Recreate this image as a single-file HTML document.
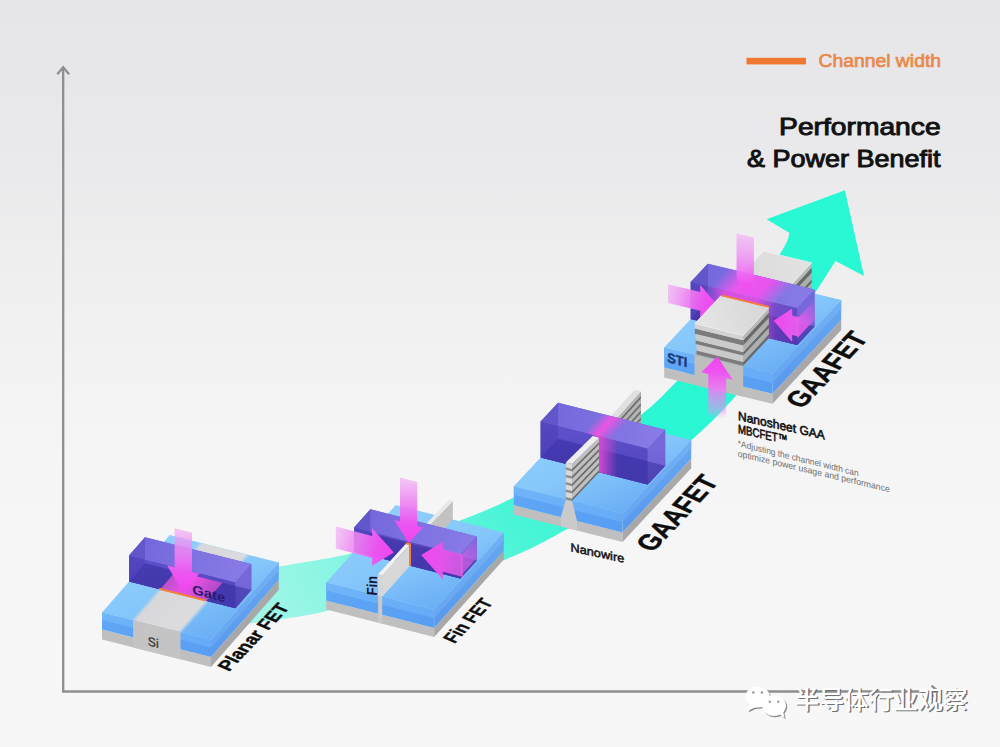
<!DOCTYPE html>
<html lang="en">
<head>
<meta charset="utf-8">
<title>Transistor structure evolution</title>
<style>
html,body{margin:0;padding:0;background:#f7f7f7;}
body{width:1000px;height:747px;overflow:hidden;font-family:'Liberation Sans',sans-serif;}
svg{display:block;}
</style>
</head>
<body>
<svg width="1000" height="747" viewBox="0 0 1000 747">
<defs>
<linearGradient id="bg" x1="0" y1="0" x2="0" y2="1">
<stop offset="0" stop-color="#e6e6e8"/><stop offset="0.2" stop-color="#e9e9eb"/><stop offset="0.4" stop-color="#f0f0f1"/><stop offset="0.55" stop-color="#f4f4f4"/><stop offset="0.7" stop-color="#f6f6f6"/><stop offset="1" stop-color="#f7f7f7"/>
</linearGradient>
<linearGradient id="g1" gradientUnits="userSpaceOnUse" x1="240" y1="600" x2="820" y2="250"><stop offset="0" stop-color="#5ff5dc" stop-opacity="0.55"/><stop offset="0.18" stop-color="#4ff5d8" stop-opacity="0.7"/><stop offset="0.4" stop-color="#34f4d3" stop-opacity="0.88"/><stop offset="0.56" stop-color="#2cf6d3" stop-opacity="1"/><stop offset="1" stop-color="#2af7d3" stop-opacity="1"/></linearGradient>
<linearGradient id="g2" gradientUnits="userSpaceOnUse" x1="102" y1="612.4" x2="211" y2="639.8"><stop offset="0" stop-color="#5fa6f6" stop-opacity="1"/><stop offset="1" stop-color="#589ef3" stop-opacity="1"/></linearGradient>
<linearGradient id="g3" gradientUnits="userSpaceOnUse" x1="102" y1="612.4" x2="211" y2="639.8"><stop offset="0" stop-color="#70b5f9" stop-opacity="1"/><stop offset="1" stop-color="#66abf6" stop-opacity="1"/></linearGradient>
<linearGradient id="g4" gradientUnits="userSpaceOnUse" x1="211" y1="639.8" x2="278.8" y2="562.5"><stop offset="0" stop-color="#5a9bee" stop-opacity="1"/><stop offset="1" stop-color="#66a6f0" stop-opacity="1"/></linearGradient>
<linearGradient id="g5" gradientUnits="userSpaceOnUse" x1="211" y1="639.8" x2="278.8" y2="562.5"><stop offset="0" stop-color="#66a6f2" stop-opacity="1"/><stop offset="1" stop-color="#72b0f4" stop-opacity="1"/></linearGradient>
<linearGradient id="g6" gradientUnits="userSpaceOnUse" x1="169.8" y1="535.1" x2="211" y2="639.8"><stop offset="0" stop-color="#8fcffd" stop-opacity="1"/><stop offset="0.5" stop-color="#86c7fb" stop-opacity="1"/><stop offset="1" stop-color="#69aef5" stop-opacity="1"/></linearGradient>
<linearGradient id="g7" gradientUnits="userSpaceOnUse" x1="130.9" y1="619.7" x2="166.6" y2="651"><stop offset="0" stop-color="#d8d8da" stop-opacity="0"/><stop offset="0.09" stop-color="#d8d8da" stop-opacity="1"/><stop offset="0.91" stop-color="#dcdcde" stop-opacity="1"/><stop offset="1" stop-color="#dcdcde" stop-opacity="0"/></linearGradient>
<linearGradient id="g8" gradientUnits="userSpaceOnUse" x1="129.1" y1="555.5" x2="129.1" y2="581.5"><stop offset="0" stop-color="#5e51ca" stop-opacity="0.9"/><stop offset="1" stop-color="#5346c0" stop-opacity="0.88"/></linearGradient>
<linearGradient id="g9" gradientUnits="userSpaceOnUse" x1="235.4" y1="582.2" x2="235.4" y2="608.2"><stop offset="0" stop-color="#7768da" stop-opacity="0.94"/><stop offset="1" stop-color="#6a5cd0" stop-opacity="0.92"/></linearGradient>
<linearGradient id="g10" gradientUnits="userSpaceOnUse" x1="129.1" y1="555.5" x2="235.4" y2="582.2"><stop offset="0" stop-color="#7266dc" stop-opacity="0.97"/><stop offset="1" stop-color="#887be6" stop-opacity="0.97"/></linearGradient>
<linearGradient id="g11" gradientUnits="userSpaceOnUse" x1="160.2" y1="589.3" x2="192.1" y2="617.3"><stop offset="0" stop-color="#c452cc" stop-opacity="0.95"/><stop offset="0.45" stop-color="#ea50e6" stop-opacity="1"/><stop offset="1" stop-color="#b84cc8" stop-opacity="0.95"/></linearGradient>
<linearGradient id="g12" gradientUnits="userSpaceOnUse" x1="183.3" y1="530.5" x2="183.3" y2="593"><stop offset="0" stop-color="#f0a4f3" stop-opacity="0.62"/><stop offset="0.35" stop-color="#ee84f3" stop-opacity="0.9"/><stop offset="0.7" stop-color="#f054f2" stop-opacity="0.97"/><stop offset="1" stop-color="#ee44ee" stop-opacity="1"/></linearGradient>
<linearGradient id="g13" gradientUnits="userSpaceOnUse" x1="326.2" y1="582.5" x2="434.2" y2="610"><stop offset="0" stop-color="#5fa6f6" stop-opacity="1"/><stop offset="1" stop-color="#589ef3" stop-opacity="1"/></linearGradient>
<linearGradient id="g14" gradientUnits="userSpaceOnUse" x1="326.2" y1="582.5" x2="434.2" y2="610"><stop offset="0" stop-color="#70b5f9" stop-opacity="1"/><stop offset="1" stop-color="#66abf6" stop-opacity="1"/></linearGradient>
<linearGradient id="g15" gradientUnits="userSpaceOnUse" x1="434.2" y1="610" x2="503.8" y2="532.5"><stop offset="0" stop-color="#5a9bee" stop-opacity="1"/><stop offset="1" stop-color="#66a6f0" stop-opacity="1"/></linearGradient>
<linearGradient id="g16" gradientUnits="userSpaceOnUse" x1="434.2" y1="610" x2="503.8" y2="532.5"><stop offset="0" stop-color="#66a6f2" stop-opacity="1"/><stop offset="1" stop-color="#72b0f4" stop-opacity="1"/></linearGradient>
<linearGradient id="g17" gradientUnits="userSpaceOnUse" x1="395.8" y1="505" x2="434.2" y2="610"><stop offset="0" stop-color="#8fcffd" stop-opacity="1"/><stop offset="0.5" stop-color="#86c7fb" stop-opacity="1"/><stop offset="1" stop-color="#69aef5" stop-opacity="1"/></linearGradient>
<linearGradient id="g18" gradientUnits="userSpaceOnUse" x1="354.1" y1="527.5" x2="354.1" y2="551.5"><stop offset="0" stop-color="#5e51ca" stop-opacity="0.9"/><stop offset="1" stop-color="#5346c0" stop-opacity="0.88"/></linearGradient>
<linearGradient id="g19" gradientUnits="userSpaceOnUse" x1="460.4" y1="554.6" x2="460.4" y2="578.6"><stop offset="0" stop-color="#7768da" stop-opacity="0.94"/><stop offset="1" stop-color="#6a5cd0" stop-opacity="0.92"/></linearGradient>
<linearGradient id="g20" gradientUnits="userSpaceOnUse" x1="354.1" y1="527.5" x2="460.4" y2="554.6"><stop offset="0" stop-color="#7266dc" stop-opacity="0.97"/><stop offset="1" stop-color="#887be6" stop-opacity="0.97"/></linearGradient>
<linearGradient id="g21" gradientUnits="userSpaceOnUse" x1="408.6" y1="479.8" x2="408.6" y2="542.8"><stop offset="0" stop-color="#f0a4f3" stop-opacity="0.62"/><stop offset="0.35" stop-color="#ee84f3" stop-opacity="0.9"/><stop offset="0.7" stop-color="#f054f2" stop-opacity="0.97"/><stop offset="1" stop-color="#ee44ee" stop-opacity="1"/></linearGradient>
<linearGradient id="g22" gradientUnits="userSpaceOnUse" x1="335.8" y1="537.6" x2="393.9" y2="552.4"><stop offset="0" stop-color="#f0a4f3" stop-opacity="0.62"/><stop offset="0.35" stop-color="#ee84f3" stop-opacity="0.9"/><stop offset="0.7" stop-color="#f054f2" stop-opacity="0.97"/><stop offset="1" stop-color="#ee44ee" stop-opacity="1"/></linearGradient>
<linearGradient id="g23" gradientUnits="userSpaceOnUse" x1="462.9" y1="565.7" x2="421.2" y2="555.1"><stop offset="0" stop-color="#d860e6" stop-opacity="0.85"/><stop offset="0.5" stop-color="#ec54ee" stop-opacity="0.95"/><stop offset="1" stop-color="#f048f0" stop-opacity="1"/></linearGradient>
<linearGradient id="g24" gradientUnits="userSpaceOnUse" x1="460.4" y1="556.1" x2="476.8" y2="537.9"><stop offset="0" stop-color="#d860e6" stop-opacity="0.7"/><stop offset="1" stop-color="#d060ee" stop-opacity="0.1"/></linearGradient>
<linearGradient id="g25" gradientUnits="userSpaceOnUse" x1="513.8" y1="486.2" x2="622.5" y2="513.8"><stop offset="0" stop-color="#5fa6f6" stop-opacity="1"/><stop offset="1" stop-color="#589ef3" stop-opacity="1"/></linearGradient>
<linearGradient id="g26" gradientUnits="userSpaceOnUse" x1="513.8" y1="486.2" x2="622.5" y2="513.8"><stop offset="0" stop-color="#70b5f9" stop-opacity="1"/><stop offset="1" stop-color="#66abf6" stop-opacity="1"/></linearGradient>
<linearGradient id="g27" gradientUnits="userSpaceOnUse" x1="622.5" y1="513.8" x2="691.2" y2="440"><stop offset="0" stop-color="#5a9bee" stop-opacity="1"/><stop offset="1" stop-color="#66a6f0" stop-opacity="1"/></linearGradient>
<linearGradient id="g28" gradientUnits="userSpaceOnUse" x1="622.5" y1="513.8" x2="691.2" y2="440"><stop offset="0" stop-color="#66a6f2" stop-opacity="1"/><stop offset="1" stop-color="#72b0f4" stop-opacity="1"/></linearGradient>
<linearGradient id="g29" gradientUnits="userSpaceOnUse" x1="582.5" y1="412.5" x2="622.5" y2="513.8"><stop offset="0" stop-color="#8fcffd" stop-opacity="1"/><stop offset="0.5" stop-color="#86c7fb" stop-opacity="1"/><stop offset="1" stop-color="#69aef5" stop-opacity="1"/></linearGradient>
<linearGradient id="g30" gradientUnits="userSpaceOnUse" x1="540.6" y1="421.5" x2="540.6" y2="457.5"><stop offset="0" stop-color="#5e51ca" stop-opacity="0.9"/><stop offset="1" stop-color="#5346c0" stop-opacity="0.88"/></linearGradient>
<linearGradient id="g31" gradientUnits="userSpaceOnUse" x1="647.7" y1="448.6" x2="647.7" y2="484.6"><stop offset="0" stop-color="#7768da" stop-opacity="0.94"/><stop offset="1" stop-color="#6a5cd0" stop-opacity="0.92"/></linearGradient>
<linearGradient id="g32" gradientUnits="userSpaceOnUse" x1="540.6" y1="421.5" x2="647.7" y2="448.6"><stop offset="0" stop-color="#7266dc" stop-opacity="0.97"/><stop offset="1" stop-color="#887be6" stop-opacity="0.97"/></linearGradient>
<linearGradient id="g33" gradientUnits="userSpaceOnUse" x1="584" y1="432.5" x2="601.8" y2="449.1"><stop offset="0" stop-color="#f252e2" stop-opacity="0"/><stop offset="0.45" stop-color="#f252e2" stop-opacity="0.95"/><stop offset="1" stop-color="#f252e2" stop-opacity="0"/></linearGradient>
<linearGradient id="g34" gradientUnits="userSpaceOnUse" x1="590.5" y1="434.1" x2="617.4" y2="434.1"><stop offset="0" stop-color="#e44ad8" stop-opacity="0"/><stop offset="0.3" stop-color="#e44ad8" stop-opacity="0.9"/><stop offset="1" stop-color="#e44ad8" stop-opacity="0"/></linearGradient>
<linearGradient id="g35" gradientUnits="userSpaceOnUse" x1="664.2" y1="347.5" x2="772.5" y2="373.8"><stop offset="0" stop-color="#5fa6f6" stop-opacity="1"/><stop offset="1" stop-color="#589ef3" stop-opacity="1"/></linearGradient>
<linearGradient id="g36" gradientUnits="userSpaceOnUse" x1="664.2" y1="347.5" x2="772.5" y2="373.8"><stop offset="0" stop-color="#70b5f9" stop-opacity="1"/><stop offset="1" stop-color="#66abf6" stop-opacity="1"/></linearGradient>
<linearGradient id="g37" gradientUnits="userSpaceOnUse" x1="772.5" y1="373.8" x2="841.2" y2="300"><stop offset="0" stop-color="#5a9bee" stop-opacity="1"/><stop offset="1" stop-color="#66a6f0" stop-opacity="1"/></linearGradient>
<linearGradient id="g38" gradientUnits="userSpaceOnUse" x1="772.5" y1="373.8" x2="841.2" y2="300"><stop offset="0" stop-color="#66a6f2" stop-opacity="1"/><stop offset="1" stop-color="#72b0f4" stop-opacity="1"/></linearGradient>
<linearGradient id="g39" gradientUnits="userSpaceOnUse" x1="733" y1="273.8" x2="772.5" y2="373.8"><stop offset="0" stop-color="#8fcffd" stop-opacity="1"/><stop offset="0.5" stop-color="#86c7fb" stop-opacity="1"/><stop offset="1" stop-color="#69aef5" stop-opacity="1"/></linearGradient>
<linearGradient id="g40" gradientUnits="userSpaceOnUse" x1="738.5" y1="298.3" x2="811.7" y2="283"><stop offset="0" stop-color="#dadada" stop-opacity="1"/><stop offset="1" stop-color="#e2e2e2" stop-opacity="1"/></linearGradient>
<linearGradient id="g41" gradientUnits="userSpaceOnUse" x1="738.5" y1="288.2" x2="811.7" y2="272.9"><stop offset="0" stop-color="#dadada" stop-opacity="1"/><stop offset="1" stop-color="#e2e2e2" stop-opacity="1"/></linearGradient>
<linearGradient id="g42" gradientUnits="userSpaceOnUse" x1="738.5" y1="278.1" x2="811.7" y2="262.8"><stop offset="0" stop-color="#dadada" stop-opacity="1"/><stop offset="1" stop-color="#e2e2e2" stop-opacity="1"/></linearGradient>
<linearGradient id="g43" gradientUnits="userSpaceOnUse" x1="690.7" y1="282.1" x2="690.7" y2="319.1"><stop offset="0" stop-color="#5e51ca" stop-opacity="0.9"/><stop offset="1" stop-color="#5346c0" stop-opacity="0.88"/></linearGradient>
<linearGradient id="g44" gradientUnits="userSpaceOnUse" x1="797.3" y1="308" x2="797.3" y2="345"><stop offset="0" stop-color="#7768da" stop-opacity="0.94"/><stop offset="1" stop-color="#6a5cd0" stop-opacity="0.92"/></linearGradient>
<linearGradient id="g45" gradientUnits="userSpaceOnUse" x1="690.7" y1="282.1" x2="797.3" y2="308"><stop offset="0" stop-color="#7266dc" stop-opacity="0.97"/><stop offset="1" stop-color="#887be6" stop-opacity="0.97"/></linearGradient>
<linearGradient id="g46" gradientUnits="userSpaceOnUse" x1="710.2" y1="286.8" x2="755.7" y2="329.2"><stop offset="0" stop-color="#f455f0" stop-opacity="0"/><stop offset="0.32" stop-color="#f455f0" stop-opacity="0.92"/><stop offset="0.66" stop-color="#f050ee" stop-opacity="0.92"/><stop offset="0.95" stop-color="#f455f0" stop-opacity="0"/></linearGradient>
<linearGradient id="g47" gradientUnits="userSpaceOnUse" x1="690.7" y1="282.1" x2="797.3" y2="282.1"><stop offset="0" stop-color="#e048dc" stop-opacity="0"/><stop offset="0.14" stop-color="#e048dc" stop-opacity="0.05"/><stop offset="0.32" stop-color="#ec4ee6" stop-opacity="0.85"/><stop offset="0.62" stop-color="#ec4ee6" stop-opacity="0.85"/><stop offset="0.8" stop-color="#e048dc" stop-opacity="0.2"/><stop offset="1" stop-color="#e048dc" stop-opacity="0.08"/></linearGradient>
<linearGradient id="g48" gradientUnits="userSpaceOnUse" x1="668" y1="293.6" x2="718.3" y2="305.8"><stop offset="0" stop-color="#f0a4f3" stop-opacity="0.62"/><stop offset="0.35" stop-color="#ee84f3" stop-opacity="0.9"/><stop offset="0.7" stop-color="#f054f2" stop-opacity="0.97"/><stop offset="1" stop-color="#ee44ee" stop-opacity="1"/></linearGradient>
<linearGradient id="g49" gradientUnits="userSpaceOnUse" x1="696.5" y1="344.2" x2="768.9" y2="327.9"><stop offset="0" stop-color="#e6e6e6" stop-opacity="1"/><stop offset="1" stop-color="#d6d6d6" stop-opacity="1"/></linearGradient>
<linearGradient id="g50" gradientUnits="userSpaceOnUse" x1="695.6" y1="333.9" x2="768.9" y2="317.8"><stop offset="0" stop-color="#e6e6e6" stop-opacity="1"/><stop offset="1" stop-color="#d6d6d6" stop-opacity="1"/></linearGradient>
<linearGradient id="g51" gradientUnits="userSpaceOnUse" x1="694.8" y1="323.6" x2="768.9" y2="307.7"><stop offset="0" stop-color="#e6e6e6" stop-opacity="1"/><stop offset="1" stop-color="#d6d6d6" stop-opacity="1"/></linearGradient>
<linearGradient id="g52" gradientUnits="userSpaceOnUse" x1="798.5" y1="326.7" x2="773.6" y2="320.7"><stop offset="0" stop-color="#f060f0" stop-opacity="0.9"/><stop offset="1" stop-color="#f048f0" stop-opacity="1"/></linearGradient>
<linearGradient id="g53" gradientUnits="userSpaceOnUse" x1="797.3" y1="318.6" x2="814.5" y2="300.1"><stop offset="0" stop-color="#ee5cee" stop-opacity="0.85"/><stop offset="1" stop-color="#e060ee" stop-opacity="0.1"/></linearGradient>
<linearGradient id="g54" gradientUnits="userSpaceOnUse" x1="745.2" y1="235.5" x2="745.2" y2="300"><stop offset="0" stop-color="#f0a4f3" stop-opacity="0.55"/><stop offset="0.45" stop-color="#ee84f3" stop-opacity="0.9"/><stop offset="0.75" stop-color="#f050f2" stop-opacity="0.95"/><stop offset="1" stop-color="#f050f2" stop-opacity="0.0"/></linearGradient>
<linearGradient id="g55" gradientUnits="userSpaceOnUse" x1="717.2" y1="418.6" x2="717.2" y2="356.6"><stop offset="0" stop-color="#f490f6" stop-opacity="0.0"/><stop offset="0.12" stop-color="#f488f6" stop-opacity="0.45"/><stop offset="0.45" stop-color="#f078f4" stop-opacity="0.85"/><stop offset="0.75" stop-color="#f050f2" stop-opacity="0.97"/><stop offset="1" stop-color="#f244f2" stop-opacity="1"/></linearGradient>
</defs>
<rect width="1000" height="747" fill="url(#bg)"/>
<path d="M63.2 68 V691.5 H938" fill="none" stroke="#8e8e90" stroke-width="2.3"/>
<path d="M57.3 74.3 L63.2 67.3 L69.1 74.3" fill="none" stroke="#8e8e90" stroke-width="2.2"/>
<path d="M931.5 685.6 L938.4 691.5 L931.5 697.4" fill="none" stroke="#8e8e90" stroke-width="2.2"/>
<polygon points="236,578 237.5,577.6 239.2,577.1 241.1,576.6 243.3,576 245.6,575.3 248.1,574.6 250.8,573.9 253.6,573.1 256.5,572.3 259.5,571.5 262.6,570.7 265.8,569.9 269.1,569.1 272.4,568.3 275.7,567.5 279,566.8 282.4,566.1 286,565.4 289.6,564.7 293.5,564.1 297.4,563.4 301.4,562.8 305.4,562.1 309.6,561.4 313.7,560.7 317.9,560 322,559.3 326.1,558.6 330.2,557.9 334.2,557.1 338.2,556.3 342,555.5 345.8,554.7 349.5,553.8 353.2,552.9 356.9,552 360.5,551.1 364.1,550.1 367.7,549.2 371.3,548.2 374.9,547.2 378.5,546.2 382.1,545.2 385.6,544.2 389.2,543.2 392.8,542.1 396.4,541.1 400,540 403.6,538.9 407.2,537.9 410.9,536.8 414.5,535.7 418.1,534.6 421.7,533.5 425.3,532.4 429,531.2 432.6,530.1 436.2,528.9 439.8,527.7 443.4,526.5 447,525.3 450.6,524 454.1,522.7 457.7,521.4 461.2,520.1 464.7,518.7 468.2,517.4 471.6,516.1 475,514.7 478.4,513.3 481.9,511.9 485.3,510.5 488.7,509.1 492.2,507.5 495.7,506 499.2,504.4 502.8,502.7 506.4,501 510.1,499.2 513.9,497.3 517.8,495.3 521.7,493.3 525.8,491.2 529.9,489.1 534,486.9 538.2,484.6 542.4,482.3 546.7,479.9 550.9,477.5 555.2,475.1 559.4,472.7 563.6,470.2 567.8,467.6 571.9,465.1 576,462.6 580,460 584,457.4 588,454.7 592.1,451.9 596.1,449.1 600.2,446.2 604.2,443.3 608.2,440.4 612.2,437.5 616.1,434.5 620,431.6 623.7,428.7 627.4,425.9 630.9,423.1 634.4,420.4 637.7,417.7 640.8,415.2 643.7,412.8 646.4,410.5 648.9,408.4 651.2,406.4 653.4,404.5 655.5,402.6 657.5,400.7 659.5,398.8 661.5,396.9 663.5,394.9 665.5,392.8 667.7,390.6 670,388.3 672.4,385.8 675,383.1 677.8,380.2 680.8,377.1 684.1,373.8 687.4,370.3 690.9,366.6 694.6,362.9 698.3,359 702,355.1 705.8,351 709.7,346.9 713.5,342.8 717.3,338.6 721,334.4 724.7,330.3 728.2,326.1 731.7,322 735,318 738.3,313.9 741.5,309.6 744.9,305.2 748.2,300.7 751.5,296.2 754.7,291.6 757.9,287 761,282.5 764.1,278 767,273.7 769.8,269.5 772.4,265.5 774.9,261.8 777.1,258.3 779.2,255.1 781,252.3 782.6,249.8 783.9,247.5 785,245.5 786,243.8 786.7,242.2 787.3,240.8 787.8,239.6 788.1,238.5 788.4,237.6 788.6,236.8 788.7,236 788.9,235.4 789,234.8 789.1,234.2 789.3,233.6 789.5,233 766.6,219.2 844.9,190.2 864,276 835.5,261 834.9,262 834.2,263.1 833.4,264.3 832.5,265.7 831.6,267.2 830.5,268.8 829.4,270.6 828.3,272.4 827.1,274.3 825.8,276.2 824.5,278.3 823.2,280.3 821.8,282.5 820.4,284.6 819,286.7 817.6,288.9 816.2,291.1 814.8,293.2 813.4,295.4 812,297.7 810.6,299.9 809.1,302.3 807.6,304.6 806.1,307.1 804.4,309.6 802.7,312.2 800.9,314.9 799,317.7 796.9,320.6 794.8,323.6 792.5,326.7 790,330 787.3,333.5 784.4,337.2 781.4,341.1 778.1,345.2 774.7,349.4 771.2,353.8 767.7,358.2 764,362.6 760.3,367.1 756.7,371.5 753,375.9 749.4,380.2 745.9,384.3 742.4,388.3 739.1,392.1 736,395.6 733,398.9 730.2,402.1 727.4,405.1 724.8,407.9 722.2,410.7 719.6,413.4 717.1,416 714.6,418.5 712.1,421 709.5,423.5 706.9,426 704.2,428.6 701.4,431.2 698.5,433.8 695.4,436.6 692.2,439.5 688.8,442.5 685.3,445.6 681.7,448.7 678,451.9 674.3,455.1 670.4,458.4 666.5,461.6 662.5,464.9 658.5,468.2 654.4,471.5 650.4,474.7 646.3,477.9 642.2,481 638.1,484.1 634,487.1 630,490 626,492.8 621.9,495.7 617.7,498.4 613.6,501.2 609.4,503.9 605.1,506.6 600.9,509.2 596.7,511.9 592.4,514.4 588.2,516.9 584,519.4 579.9,521.8 575.8,524.2 571.7,526.5 567.7,528.8 563.7,531 559.8,533.1 556.1,535.2 552.5,537.2 548.9,539.1 545.5,541 542,542.8 538.6,544.5 535.1,546.3 531.6,548 528.1,549.7 524.5,551.3 520.7,553 516.9,554.7 512.9,556.4 508.7,558.1 504.3,559.9 499.7,561.7 495,563.5 490.2,565.3 485.2,567.1 480.1,568.9 474.9,570.7 469.6,572.5 464.3,574.3 458.9,576.1 453.4,577.9 447.9,579.6 442.3,581.3 436.7,583.1 431.1,584.7 425.6,586.4 420,588 414.3,589.6 408.4,591.2 402.3,592.9 396.1,594.5 389.7,596.1 383.3,597.7 376.9,599.3 370.6,600.8 364.3,602.3 358.2,603.8 352.2,605.2 346.5,606.5 341,607.8 335.8,609 331,610.1 326.6,611.1 322.6,612 319,612.8 315.7,613.5 312.7,614.1 310,614.6 307.5,615.1 305.2,615.5 303,615.9 300.9,616.2 298.9,616.6 296.9,616.9 294.9,617.2 292.8,617.5 290.7,617.8 288.4,618.1 286,618.5 283.4,618.9 280.7,619.3 277.9,619.7 275,620.1 272.1,620.5 269.2,620.9 266.3,621.3 263.5,621.7 260.7,622.1 258,622.4 255.5,622.8 253.2,623.1 251,623.3 249.1,623.6 247.4,623.8 246,624" fill="url(#g1)"/>
<polygon points="102,629.6 211,657 211,667 102,639.6" fill="#bfbfbf"/>
<polygon points="211,657 278.8,579.7 278.8,589.7 211,667" fill="#a8a8a8"/>
<polygon points="102,612.4 211,639.8 211,657 102,629.6" fill="url(#g2)"/>
<polygon points="102,612.4 211,639.8 211,647.5 102,620.1" fill="url(#g3)"/>
<polygon points="211,639.8 278.8,562.5 278.8,579.7 211,657" fill="url(#g4)"/>
<polygon points="211,639.8 278.8,562.5 278.8,570.2 211,647.5" fill="url(#g5)"/>
<polygon points="102,612.4 211,639.8 278.8,562.5 169.8,535.1" fill="url(#g6)"/>
<polygon points="130.9,619.7 182.7,632.7 250.4,555.4 198.6,542.4" fill="url(#g7)"/>
<polygon points="133.1,620.2 180.5,632.1 180.5,659.3 133.1,647.4" fill="#c4c4c4"/>
<polygon points="129.1,581.5 235.4,608.2 251.3,590 251.3,564 145,537.3 129.1,555.5" fill="#6a5ed4"/>
<polygon points="129.1,581.5 235.4,608.2 251.3,590 145,563.3" fill="#4539ae"/>
<polygon points="129.1,555.5 235.4,582.2 235.4,608.2 129.1,581.5" fill="url(#g8)"/>
<polygon points="235.4,582.2 251.3,564 251.3,590 235.4,608.2" fill="url(#g9)"/>
<polygon points="129.1,555.5 235.4,582.2 251.3,564 145,537.3" fill="url(#g10)"/>
<polygon points="129.1,581.5 235.4,608.2 251.3,590 145,563.3" fill="#362b9e" fill-opacity="0.5"/>
<polygon points="129.1,581.5 145,563.3 145,537.3 129.1,555.5" fill="#3a2ea2" fill-opacity="0.3"/>
<polygon points="160.2,589.3 206.5,600.9 222.4,582.8 176.1,571.1" fill="url(#g11)"/>
<line x1="159.1" y1="588.7" x2="205.9" y2="600.5" stroke="#f0803c" stroke-width="2.2"/>
<polygon points="183.3,593 199.4,573.5 192,571.7 192,532.7 174.6,528.3 174.6,567.3 167.2,565.5" fill="url(#g12)"/>
<polygon points="326.2,600.5 434.2,628 434.2,637 326.2,609.5" fill="#bfbfbf"/>
<polygon points="434.2,628 503.8,550.5 503.8,559.5 434.2,637" fill="#a8a8a8"/>
<polygon points="326.2,582.5 434.2,610 434.2,628 326.2,600.5" fill="url(#g13)"/>
<polygon points="326.2,582.5 434.2,610 434.2,618.1 326.2,590.6" fill="url(#g14)"/>
<polygon points="434.2,610 503.8,532.5 503.8,550.5 434.2,628" fill="url(#g15)"/>
<polygon points="434.2,610 503.8,532.5 503.8,540.6 434.2,618.1" fill="url(#g16)"/>
<polygon points="326.2,582.5 434.2,610 503.8,532.5 395.8,505" fill="url(#g17)"/>
<polygon points="378.1,595.7 382.2,596.7 382.2,623.7 378.1,622.7" fill="#c9c9c9"/>
<polygon points="423.3,526.8 427.4,527.8 427.4,547.8 423.3,546.8" fill="#d4d4d4"/>
<polygon points="427.4,527.8 452.8,501 452.8,519.5 427.4,547.8" fill="#c2c2c2"/>
<polygon points="423.3,526.8 427.4,527.8 452.8,501 448.7,500" fill="#e8e8e8"/>
<polygon points="354.1,551.5 460.4,578.6 476.8,560.4 476.8,536.4 370.4,509.3 354.1,527.5" fill="#6a5ed4"/>
<polygon points="354.1,551.5 460.4,578.6 476.8,560.4 370.4,533.3" fill="#4539ae"/>
<polygon points="405.9,543.2 410,544.2 410,565.7 405.9,564.7" fill="#b070c8"/>
<polygon points="410,544.2 426.3,526 426.3,547.5 410,565.7" fill="#a060c4"/>
<polygon points="405.9,543.2 410,544.2 426.3,526 422.2,525" fill="#d090e0"/>
<polygon points="354.1,527.5 460.4,554.6 460.4,578.6 354.1,551.5" fill="url(#g18)"/>
<polygon points="460.4,554.6 476.8,536.4 476.8,560.4 460.4,578.6" fill="url(#g19)"/>
<polygon points="354.1,527.5 460.4,554.6 476.8,536.4 370.4,509.3" fill="url(#g20)"/>
<polygon points="354.1,551.5 460.4,578.6 476.8,560.4 370.4,533.3" fill="#362b9e" fill-opacity="0.5"/>
<polygon points="354.1,551.5 370.4,533.3 370.4,509.3 354.1,527.5" fill="#3a2ea2" fill-opacity="0.3"/>
<polygon points="378.1,574.2 382.2,575.2 382.2,596.7 378.1,595.7" fill="#d6d6d6"/>
<polygon points="382.2,575.2 410,544.7 410,565.7 382.2,596.7" fill="#d8d8d8"/>
<polygon points="378.1,574.2 382.2,575.2 410,544.7 405.9,543.7" fill="#f2f2f2"/>
<polyline points="405.9,543.2 410,544.2 410,565.7" fill="none" stroke="#f0803c" stroke-width="2"/>
<polygon points="408.6,542.8 423.1,527.5 417.2,526 417.2,482 400,477.6 400,521.6 394.1,520.1" fill="url(#g21)"/>
<polygon points="393.9,552.4 372.2,565.6 372.2,557.9 335.8,548.6 335.8,526.6 372.2,535.9 372.2,528.2" fill="url(#g22)"/>
<polygon points="421.2,555.1 442.9,579.4 442.9,571.8 462.9,576.9 462.9,554.5 442.9,549.4 442.9,541.8" fill="url(#g23)"/>
<polygon points="460.4,556.1 476.8,537.9 476.8,557.9 460.4,576.1" fill="url(#g24)"/>
<polygon points="513.8,505.1 622.5,532.5 622.5,542 513.8,514.5" fill="#bfbfbf"/>
<polygon points="622.5,532.5 691.2,458.8 691.2,468.2 622.5,542" fill="#a8a8a8"/>
<polygon points="513.8,486.2 622.5,513.8 622.5,532.5 513.8,505.1" fill="url(#g25)"/>
<polygon points="513.8,486.2 622.5,513.8 622.5,522.2 513.8,494.7" fill="url(#g26)"/>
<polygon points="622.5,513.8 691.2,440 691.2,458.8 622.5,532.5" fill="url(#g27)"/>
<polygon points="622.5,513.8 691.2,440 691.2,448.5 622.5,522.2" fill="url(#g28)"/>
<polygon points="513.8,486.2 622.5,513.8 691.2,440 582.5,412.5" fill="url(#g29)"/>
<polygon points="565.8,499.4 572.1,501 577,521.1 577,530.5 560.9,526.4 560.9,517" fill="#cacaca"/>
<polygon points="610.2,417.9 616.5,419.4 616.5,453.4 610.2,451.9" fill="#8e8e8e"/>
<polygon points="616.5,419.4 640.9,392.3 640.9,427.3 616.5,453.4" fill="#6c6c6c"/>
<polygon points="610.2,444.9 616.5,446.4 616.5,451.1 610.2,449.5" fill="#cecece"/>
<polygon points="616.5,446.4 640.9,420.1 640.9,424.8 616.5,451.1" fill="#b4b4b4"/>
<polygon points="610.2,437.9 616.5,439.4 616.5,444.1 610.2,442.5" fill="#cecece"/>
<polygon points="616.5,439.4 640.9,412.9 640.9,417.6 616.5,444.1" fill="#b4b4b4"/>
<polygon points="610.2,430.9 616.5,432.4 616.5,437.1 610.2,435.5" fill="#cecece"/>
<polygon points="616.5,432.4 640.9,405.7 640.9,410.4 616.5,437.1" fill="#b4b4b4"/>
<polygon points="610.2,423.9 616.5,425.4 616.5,430.1 610.2,428.5" fill="#cecece"/>
<polygon points="616.5,425.4 640.9,398.5 640.9,403.2 616.5,430.1" fill="#b4b4b4"/>
<polygon points="610.2,416.9 616.5,418.4 616.5,423.1 610.2,421.5" fill="#cecece"/>
<polygon points="616.5,418.4 640.9,391.3 640.9,396 616.5,423.1" fill="#b4b4b4"/>
<polygon points="610.2,416.9 616.5,418.4 640.9,391.3 634.6,389.7" fill="#e0e0e0"/>
<polygon points="540.6,457.5 647.7,484.6 665.2,465.8 665.2,429.8 558.1,402.7 540.6,421.5" fill="#6a5ed4"/>
<polygon points="540.6,457.5 647.7,484.6 665.2,465.8 558.1,438.7" fill="#4539ae"/>
<polygon points="592.7,436.2 599,437.8 599,472.3 592.7,470.7" fill="#c848cc"/>
<polygon points="599,437.8 616.5,418.9 616.5,453.4 599,472.3" fill="#b844c4"/>
<polygon points="592.7,436.2 599,437.8 616.5,418.9 610.2,417.4" fill="#e050d8"/>
<polygon points="540.6,421.5 647.7,448.6 647.7,484.6 540.6,457.5" fill="url(#g30)"/>
<polygon points="647.7,448.6 665.2,429.8 665.2,465.8 647.7,484.6" fill="url(#g31)"/>
<polygon points="540.6,421.5 647.7,448.6 665.2,429.8 558.1,402.7" fill="url(#g32)"/>
<polygon points="540.6,457.5 647.7,484.6 665.2,465.8 558.1,438.7" fill="#362b9e" fill-opacity="0.5"/>
<polygon points="540.6,457.5 558.1,438.7 558.1,402.7 540.6,421.5" fill="#3a2ea2" fill-opacity="0.3"/>
<polygon points="584,432.5 610.9,439.3 628.5,420.5 601.5,413.7" fill="url(#g33)"/>
<polygon points="590.5,434.1 617.4,440.9 617.4,476.9 590.5,470.1" fill="url(#g34)"/>
<polygon points="565.8,463.4 572.1,465 572.1,501 565.8,499.4" fill="#8e8e8e"/>
<polygon points="572.1,465 599,438.7 599,472.3 572.1,501" fill="#6c6c6c"/>
<polygon points="565.8,492 572.1,493.6 572.1,498.5 565.8,496.9" fill="#dadada"/>
<polygon points="572.1,493.6 599,465.3 599,469.9 572.1,498.5" fill="#c0c0c0"/>
<polygon points="565.8,484.6 572.1,486.2 572.1,491.1 565.8,489.5" fill="#dadada"/>
<polygon points="572.1,486.2 599,458.4 599,463 572.1,491.1" fill="#c0c0c0"/>
<polygon points="565.8,477.2 572.1,478.8 572.1,483.7 565.8,482.1" fill="#dadada"/>
<polygon points="572.1,478.8 599,451.5 599,456.1 572.1,483.7" fill="#c0c0c0"/>
<polygon points="565.8,469.8 572.1,471.4 572.1,476.3 565.8,474.7" fill="#dadada"/>
<polygon points="572.1,471.4 599,444.6 599,449.1 572.1,476.3" fill="#c0c0c0"/>
<polygon points="565.8,462.4 572.1,464 572.1,468.9 565.8,467.3" fill="#dadada"/>
<polygon points="572.1,464 599,437.7 599,442.2 572.1,468.9" fill="#c0c0c0"/>
<polygon points="565.8,462.4 572.1,464 599,437.7 592.7,436.1" fill="#eeeeee"/>
<polygon points="664.2,367.5 772.5,393.8 772.5,403.8 664.2,377.5" fill="#bfbfbf"/>
<polygon points="772.5,393.8 841.2,320 841.2,330 772.5,403.8" fill="#a8a8a8"/>
<polygon points="664.2,347.5 772.5,373.8 772.5,393.8 664.2,367.5" fill="url(#g35)"/>
<polygon points="664.2,347.5 772.5,373.8 772.5,382.8 664.2,356.5" fill="url(#g36)"/>
<polygon points="772.5,373.8 841.2,300 841.2,320 772.5,393.8" fill="url(#g37)"/>
<polygon points="772.5,373.8 841.2,300 841.2,309 772.5,382.8" fill="url(#g38)"/>
<polygon points="664.2,347.5 772.5,373.8 841.2,300 733,273.8" fill="url(#g39)"/>
<polygon points="694.5,354.8 743.2,366.6 743.2,396.6 694.5,384.8" fill="#bebebe"/>
<polygon points="694.5,354.8 743.2,366.6 748,361.5 699.3,349.7" fill="#b2b2b2"/>
<polygon points="738.5,304.7 786.6,316.4 786.6,320.1 738.5,308.4" fill="#7c7c7c"/>
<polygon points="786.6,316.4 811.7,289.4 811.7,293.1 786.6,320.1" fill="#6a6a6a"/>
<polygon points="738.5,298.3 786.6,310 786.6,316.4 738.5,304.7" fill="#cacaca"/>
<polygon points="786.6,310 811.7,283 811.7,289.4 786.6,316.4" fill="#aeaeae"/>
<polygon points="738.5,298.3 786.6,310 811.7,283 763.6,271.4" fill="url(#g40)"/>
<polygon points="738.5,294.6 786.6,306.3 786.6,310 738.5,298.3" fill="#7c7c7c"/>
<polygon points="786.6,306.3 811.7,279.3 811.7,283 786.6,310" fill="#6a6a6a"/>
<polygon points="738.5,288.2 786.6,299.9 786.6,306.3 738.5,294.6" fill="#cacaca"/>
<polygon points="786.6,299.9 811.7,272.9 811.7,279.3 786.6,306.3" fill="#aeaeae"/>
<polygon points="738.5,288.2 786.6,299.9 811.7,272.9 763.6,261.3" fill="url(#g41)"/>
<polygon points="738.5,282.9 786.6,294.6 786.6,299.9 738.5,288.2" fill="#7c7c7c"/>
<polygon points="786.6,294.6 811.7,267.6 811.7,272.9 786.6,299.9" fill="#6a6a6a"/>
<polygon points="738.5,278.1 786.6,289.8 786.6,294.6 738.5,282.9" fill="#d2d2d2"/>
<polygon points="786.6,289.8 811.7,262.8 811.7,267.6 786.6,294.6" fill="#b8b8b8"/>
<polygon points="738.5,278.1 786.6,289.8 811.7,262.8 763.6,251.2" fill="url(#g42)" stroke="#f1f1f1" stroke-width="0.7"/>
<polygon points="690.7,319.1 797.3,345 814.5,326.5 814.5,289.5 707.9,263.7 690.7,282.1" fill="#6a5ed4"/>
<polygon points="690.7,319.1 797.3,345 814.5,326.5 707.9,300.7" fill="#4539ae"/>
<polygon points="717.5,299.3 765.8,311 783,292.6 734.6,280.9" fill="#dca4dc"/>
<polygon points="690.7,282.1 797.3,308 797.3,345 690.7,319.1" fill="url(#g43)"/>
<polygon points="797.3,308 814.5,289.5 814.5,326.5 797.3,345" fill="url(#g44)"/>
<polygon points="690.7,282.1 797.3,308 814.5,289.5 707.9,263.7" fill="url(#g45)"/>
<polygon points="690.7,319.1 797.3,345 814.5,326.5 707.9,300.7" fill="#362b9e" fill-opacity="0.5"/>
<polygon points="690.7,319.1 707.9,300.7 707.9,263.7 690.7,282.1" fill="#3a2ea2" fill-opacity="0.3"/>
<polygon points="710.2,286.8 779.5,303.6 796.7,285.2 727.4,268.4" fill="url(#g46)"/>
<polygon points="690.7,282.1 797.3,308 797.3,345 690.7,319.1" fill="url(#g47)"/>
<polygon points="718.3,305.8 700.2,317.7 700.2,310.7 668,302.9 668,284.3 700.2,292.1 700.2,285.1" fill="url(#g48)"/>
<polygon points="696.5,350.6 743.2,362 743.2,365.7 696.5,354.3" fill="#7c7c7c"/>
<polygon points="743.2,362 768.9,334.3 768.9,338 743.2,365.7" fill="#6a6a6a"/>
<polygon points="696.5,344.2 743.2,355.6 743.2,362 696.5,350.6" fill="#cacaca"/>
<polygon points="743.2,355.6 768.9,327.9 768.9,334.3 743.2,362" fill="#aeaeae"/>
<polygon points="696.5,344.2 743.2,355.6 768.9,327.9 722.3,316.6" fill="url(#g49)"/>
<polygon points="695.6,340.3 743.2,351.9 743.2,355.6 695.6,344" fill="#7c7c7c"/>
<polygon points="743.2,351.9 768.9,324.2 768.9,327.9 743.2,355.6" fill="#6a6a6a"/>
<polygon points="695.6,333.9 743.2,345.5 743.2,351.9 695.6,340.3" fill="#cacaca"/>
<polygon points="743.2,345.5 768.9,317.8 768.9,324.2 743.2,351.9" fill="#aeaeae"/>
<polygon points="695.6,333.9 743.2,345.5 768.9,317.8 721.4,306.3" fill="url(#g50)"/>
<polygon points="694.8,328.4 743.2,340.2 743.2,345.5 694.8,333.7" fill="#7c7c7c"/>
<polygon points="743.2,340.2 768.9,312.5 768.9,317.8 743.2,345.5" fill="#6a6a6a"/>
<polygon points="694.8,323.6 743.2,335.4 743.2,340.2 694.8,328.4" fill="#d2d2d2"/>
<polygon points="743.2,335.4 768.9,307.7 768.9,312.5 743.2,340.2" fill="#b8b8b8"/>
<polygon points="694.8,323.6 743.2,335.4 768.9,307.7 720.6,296" fill="url(#g51)" stroke="#f1f1f1" stroke-width="0.7"/>
<line x1="721.4" y1="295.4" x2="769.3" y2="307" stroke="#f0803c" stroke-width="1.8"/>
<polygon points="773.6,320.7 792.2,342 792.2,335 798.5,336.5 798.5,316.9 792.2,315.4 792.2,308.4" fill="url(#g52)"/>
<polygon points="797.3,318.6 814.5,300.1 814.5,319.7 797.3,338.2" fill="url(#g53)"/>
<polygon points="745.2,300 753.9,280.1 753.9,280.1 753.9,237.6 736.5,233.4 736.5,275.9 736.5,275.9" fill="url(#g54)"/>
<polygon points="717.2,356.6 733,379.9 726.1,378.3 726.1,420.8 708.3,416.4 708.3,373.9 701.4,372.3" fill="url(#g55)"/>
<rect x="746.5" y="57.8" width="59.5" height="6.6" fill="#f0772f"/>
<text x="818.5" y="67.3" font-family="'Liberation Sans', sans-serif" font-size="17.6" fill="#e98a4b" font-weight="normal" textLength="122.5" lengthAdjust="spacingAndGlyphs" stroke="#e98a4b" stroke-width="0.7">Channel width</text>
<text x="940.6" y="135" font-family="'Liberation Sans', sans-serif" font-size="23.6" fill="#111" font-weight="normal" textLength="161.5" lengthAdjust="spacingAndGlyphs" text-anchor="end" stroke="#111" stroke-width="0.95">Performance</text>
<text x="940.6" y="166.5" font-family="'Liberation Sans', sans-serif" font-size="23.6" fill="#111" font-weight="normal" textLength="193.5" lengthAdjust="spacingAndGlyphs" text-anchor="end" stroke="#111" stroke-width="0.95">&amp; Power Benefit</text>
<text x="0" y="0" font-family="'Liberation Sans', sans-serif" font-size="19.6" fill="#0d0d0d" font-weight="bold" transform="matrix(0.6871 -0.7266 0.9164 0.4003 229.0000 672.0000)" textLength="89" lengthAdjust="spacingAndGlyphs" stroke="#0d0d0d" stroke-width="0.45" stroke-linejoin="round">Planar FET</text>
<text x="0" y="0" font-family="'Liberation Sans', sans-serif" font-size="19.6" fill="#0d0d0d" font-weight="bold" transform="matrix(0.6884 -0.7254 0.9164 0.4003 454.5000 644.0000)" textLength="57" lengthAdjust="spacingAndGlyphs" stroke="#0d0d0d" stroke-width="0.45" stroke-linejoin="round">Fin FET</text>
<text x="0" y="0" font-family="'Liberation Sans', sans-serif" font-size="29" fill="#0d0d0d" font-weight="bold" transform="matrix(0.6858 -0.7278 0.9063 0.4226 652.5000 553.0000)" textLength="98" lengthAdjust="spacingAndGlyphs" stroke="#0d0d0d" stroke-width="0.5" stroke-linejoin="round">GAAFET</text>
<text x="0" y="0" font-family="'Liberation Sans', sans-serif" font-size="29" fill="#0d0d0d" font-weight="bold" transform="matrix(0.6858 -0.7278 0.9063 0.4226 802.0000 409.5000)" textLength="98" lengthAdjust="spacingAndGlyphs" stroke="#0d0d0d" stroke-width="0.5" stroke-linejoin="round">GAAFET</text>
<text x="0" y="0" font-family="'Liberation Sans', sans-serif" font-size="11.8" fill="#141414" font-weight="normal" transform="matrix(1 0.215 0 1 570.6 551.3)" textLength="53.6" lengthAdjust="spacingAndGlyphs" stroke="#141414" stroke-width="0.5">Nanowire</text>
<text x="0" y="0" font-family="'Liberation Sans', sans-serif" font-size="12.4" fill="#111" font-weight="normal" transform="matrix(1 0.2245 0 1 738 420)" textLength="86.8" lengthAdjust="spacingAndGlyphs" stroke="#111" stroke-width="0.6">Nanosheet GAA</text>
<text x="0" y="0" font-family="'Liberation Sans', sans-serif" font-size="12.4" fill="#111" font-weight="normal" transform="matrix(1 0.2245 0 1 738 433)" textLength="49.3" lengthAdjust="spacingAndGlyphs" stroke="#111" stroke-width="0.6">MBCFET™</text>
<text x="0" y="0" font-family="'Liberation Sans', sans-serif" font-size="9" fill="#6e6e6e" font-weight="normal" transform="matrix(1 0.25 0 1 737.8 446.2)" textLength="120.8" lengthAdjust="spacingAndGlyphs">*Adjusting the channel width can</text>
<text x="0" y="0" font-family="'Liberation Sans', sans-serif" font-size="9" fill="#6e6e6e" font-weight="normal" transform="matrix(1 0.236 0 1 737.8 456.4)" textLength="152" lengthAdjust="spacingAndGlyphs">optimize power usage and performance</text>
<text x="0" y="0" font-family="'Liberation Sans', sans-serif" font-size="12.8" fill="#2a1a72" font-weight="bold" transform="matrix(0.97 0.25 0 1 192.2 593.8)" textLength="34" lengthAdjust="spacingAndGlyphs">Gate</text>
<text x="0" y="0" font-family="'Liberation Sans', sans-serif" font-size="12.5" fill="#3a3a3a" font-weight="normal" transform="matrix(0.97 0.25 0 1 147.8 645.3)" stroke="#3a3a3a" stroke-width="0.35">Si</text>
<text x="0" y="0" font-family="'Liberation Sans', sans-serif" font-size="14.6" fill="#14142e" font-weight="bold" transform="matrix(0 -1 1 0.08 376.9 595.8)" textLength="19.7" lengthAdjust="spacingAndGlyphs">Fin</text>
<text x="0" y="0" font-family="'Liberation Sans', sans-serif" font-size="13.6" fill="#1b397c" font-weight="bold" transform="matrix(0.97 0.25 0 1 667.3 362)" textLength="20.5" lengthAdjust="spacingAndGlyphs" stroke="#1b397c" stroke-width="0.45">STI</text>
<g><g transform="translate(1.2 1.2)" fill="#8a8a8a"><ellipse cx="757.6" cy="697" rx="12.3" ry="10.6"/><path d="M750 704 L747.5 711 L756 707 Z"/><ellipse cx="774" cy="705.6" rx="12" ry="10.4"/><path d="M778 713 L784.5 718 L783 711 Z"/></g><g transform="translate(0 0)" fill="#ffffff"><ellipse cx="757.6" cy="697" rx="12.3" ry="10.6"/><path d="M750 704 L747.5 711 L756 707 Z"/><ellipse cx="774" cy="705.6" rx="12" ry="10.4"/><path d="M778 713 L784.5 718 L783 711 Z"/></g><circle cx="753.3" cy="692.5" r="1.3" fill="#999"/><circle cx="762" cy="692.5" r="1.3" fill="#999"/><circle cx="769.8" cy="701.8" r="1.2" fill="#999"/><circle cx="778.2" cy="701.8" r="1.2" fill="#999"/></g>
<text x="795.9" y="710.4" font-family="'Liberation Sans', 'Noto Sans CJK SC', sans-serif" font-size="24.6" font-weight="500" fill="#707070" textLength="173" lengthAdjust="spacingAndGlyphs">半导体行业观察</text>
<text x="794.5" y="709" font-family="'Liberation Sans', 'Noto Sans CJK SC', sans-serif" font-size="24.6" font-weight="500" fill="#ffffff" textLength="173" lengthAdjust="spacingAndGlyphs">半导体行业观察</text>
</svg>
</body>
</html>
